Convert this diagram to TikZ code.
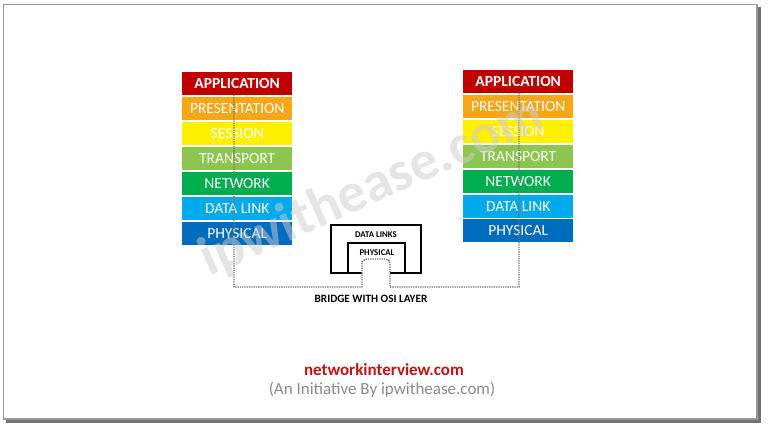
\documentclass[tikz,border=0pt]{standalone}
\usepackage{fontspec}
\setmainfont{Carlito}
\begin{document}
\begin{tikzpicture}[x=1pt,y=-1pt,
  layer/.style={anchor=north west,minimum width=110pt,minimum height=23pt,inner sep=0pt,
    text=white,font=\fontsize{15.5}{17}\selectfont},
  dotline/.style={densely dotted,line width=1.3pt,color=black!55},
  bridge/.style={line width=2.4pt,color=black},
  smalllbl/.style={font=\bfseries\fontsize{8.8}{10}\selectfont,inner sep=0pt}]
\definecolor{cApp}{RGB}{192,0,0}
\definecolor{cPre}{RGB}{247,166,22}
\definecolor{cSes}{RGB}{255,240,0}
\definecolor{cTra}{RGB}{140,198,80}
\definecolor{cNet}{RGB}{0,174,80}
\definecolor{cDat}{RGB}{0,170,235}
\definecolor{cPhy}{RGB}{0,108,190}
\definecolor{cRed}{RGB}{192,20,20}
\definecolor{cWm}{RGB}{205,205,205}
\useasboundingbox (0,0) rectangle (768,428);
\fill[white] (0,0) rectangle (768,428);
% frame with shadow
\draw[line width=3pt,color=black!55] (6,421) -- (759,421) -- (759,7);
\draw[line width=1.6pt,color=black!40,fill=white] (3.5,4.5) rectangle (757,419);
% left stack
\node[layer,fill=cApp,font=\bfseries\fontsize{15.5}{17}\selectfont] (L1) at (182,72) {APPLICATION};
\node[layer,fill=cPre] (L2) at (182,97) {PRESENTATION};
\node[layer,fill=cSes] (L3) at (182,122) {SESSION};
\node[layer,fill=cTra] (L4) at (182,147) {TRANSPORT};
\node[layer,fill=cNet] (L5) at (182,172) {NETWORK};
\node[layer,fill=cDat] (L6) at (182,197) {DATA LINK};
\node[layer,fill=cPhy] (L7) at (182,222) {PHYSICAL};
% right stack
\node[layer,fill=cApp,font=\bfseries\fontsize{15.5}{17}\selectfont] (R1) at (463,70) {APPLICATION};
\node[layer,fill=cPre] (R2) at (463,95) {PRESENTATION};
\node[layer,fill=cSes] (R3) at (463,120) {SESSION};
\node[layer,fill=cTra] (R4) at (463,145) {TRANSPORT};
\node[layer,fill=cNet] (R5) at (463,170) {NETWORK};
\node[layer,fill=cDat] (R6) at (463,195) {DATA LINK};
\node[layer,fill=cPhy] (R7) at (463,219) {PHYSICAL};
% bridge
\draw[bridge] (362,273) -- (331,273) -- (331,225) -- (421,225) -- (421,273) -- (390,273);
\draw[bridge] (348,273) -- (348,243) -- (405,243) -- (405,273);
\node[smalllbl] (dl) at (376,235) {DATA LINKS};
\node[smalllbl] (ph) at (377,252.5) {PHYSICAL};
\node[font=\bfseries\fontsize{11.2}{12}\selectfont,inner sep=0pt] (br) at (371,299) {BRIDGE WITH OSI LAYER};
% dotted connection
\coordinate (lt) at (234,95);
\coordinate (rt) at (519,93);
\draw[dotline] (lt) -- (234,287) -- (362,287) -- (362,262) [rounded corners=3pt] -- (364,259) -- (388,259) -- (390,262) [sharp corners] -- (390,287) -- (519,287) -- (rt);
% watermark
\node[rotate=24,font=\bfseries\fontsize{56}{56}\selectfont,text=cWm,opacity=0.5] (wm) at (372,188) {ipwithease.com};
% footer
\node[font=\bfseries\fontsize{17}{18}\selectfont,text=cRed,inner sep=0pt] (site) at (384,370) {networkinterview.com};
\node[font=\fontsize{17}{18}\selectfont,text=black!45,inner sep=0pt] (sub) at (382,390) {(An Initiative By ipwithease.com)};
\end{tikzpicture}
\end{document}
